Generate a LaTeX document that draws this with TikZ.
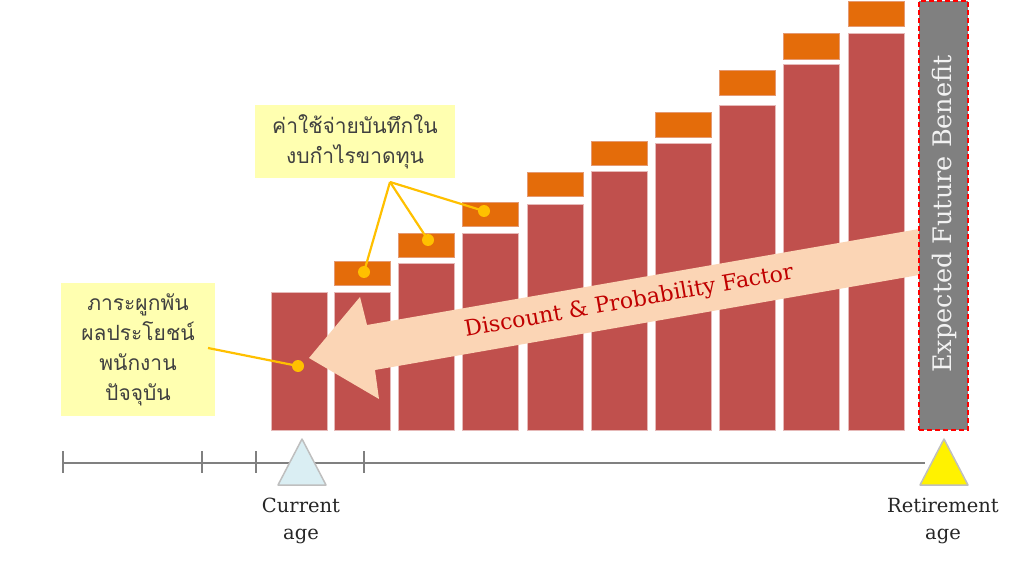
\documentclass[tikz,border=0pt]{standalone}
\usepackage{fontspec}
\setmainfont{DejaVu Serif}
\newfontfamily\thaifont[Script=Thai]{Loma}
\definecolor{barred}{HTML}{C0504D}
\definecolor{barorange}{HTML}{E46C0A}
\definecolor{barline}{HTML}{E6B9B8}
\definecolor{peach}{HTML}{FBD5B5}
\definecolor{darkred}{HTML}{C00000}
\definecolor{calloutfill}{HTML}{FFFFB0}
\definecolor{connector}{HTML}{FFC000}
\definecolor{axisgray}{HTML}{808080}
\definecolor{textgray}{HTML}{404040}
\definecolor{lightblue}{HTML}{DAEEF3}
\definecolor{triborder}{HTML}{BFBFBF}
\tikzset{
  barbox/.style={fill=barred, draw=barline, line width=0.8pt},
  topbox/.style={fill=barorange, draw=barline!60!barorange, line width=0.6pt},
  callout/.style={fill=calloutfill, inner sep=0pt, text=textgray, align=center,
    font=\thaifont\fontsize{21}{30}\selectfont},
  conn/.style={draw=connector, line width=2.2pt},
  dot/.style={circle, fill=connector, inner sep=0pt, minimum size=12pt},
  agelabel/.style={align=center, text=black!85, font=\fontsize{19.5}{27}\selectfont},
  tri/.style={draw=triborder, line width=1.5pt, line join=round},
  axis/.style={draw=axisgray, line width=1.8pt},
}
\begin{document}
\begin{tikzpicture}[x=1pt,y=-1pt]
\useasboundingbox (0,0) rectangle (1024,561);
% bars
\foreach \x/\t in {271/292,334/292,398/263,462/233,527/204,591/171,655/143,719/105,783/64,848/33}{
  \path[barbox] (\x,\t) rectangle (\x+56,430);
}
\foreach \x/\a/\b in {334/261/285,398/233/257,462/202/226,527/172/196,591/141/165,655/112/137,719/70/95,783/33/59,848/1/26}{
  \path[topbox] (\x,\a) rectangle (\x+56,\b);
}
% big arrow
\fill[peach] (919,229) -- (367,325) -- (360,297) -- (309,358) -- (379,399) -- (375,370) -- (919,275) -- cycle;
\node[rotate=10, text=darkred, inner sep=0pt, font=\fontsize{22}{24}\selectfont] (disc) at (629,302) {Discount \& Probability Factor};
% gray bar
\node[fill=axisgray, draw=red, dashed, dash pattern=on 5pt off 3pt, line width=2pt,
  minimum width=49pt, minimum height=429pt, inner sep=0pt] (efb) at (943.5,215.5) {};
\node[rotate=90, inner sep=0pt, text=white!95!black, font=\fontsize{25.5}{27}\selectfont] (efbtext) at (944,214) {Expected Future Benefit};
% timeline
\coordinate (tl0) at (63,463);
\coordinate (tl1) at (925,463);
\draw[axis] (tl0) -- (tl1);
\foreach \x in {63,202,256,364}{
  \draw[axis] (\x,451) -- (\x,473);
}
\draw[tri, fill=lightblue] (302,439) -- (278,485) -- (326,485) -- cycle;
\draw[tri, fill=yellow] (944,439) -- (920,485) -- (968,485) -- cycle;
\node[agelabel] (cur) at (301,521) {Current\\age};
\node[agelabel] (ret) at (943,521) {Retirement\\age};
% callouts
\node[callout, minimum width=200pt, minimum height=73pt] (c1) at (355,141.5)
  {ค่าใช้จ่ายบันทึกใน\\งบกำไรขาดทุน};
\node[callout, minimum width=154pt, minimum height=133pt] (c2) at (138,349.5)
  {ภาระผูกพัน\\ผลประโยชน์\\พนักงาน\\ปัจจุบัน};
\node[dot] (d1) at (298,366) {};
\node[dot] (d2) at (364,272) {};
\node[dot] (d3) at (428,240) {};
\node[dot] (d4) at (484,211) {};
\coordinate (j1) at (390,182);
\coordinate (j2) at (208,348);
\draw[conn] (j1) -- (d2.center);
\draw[conn] (j1) -- (d3.center);
\draw[conn] (j1) -- (d4.center);
\draw[conn] (j2) -- (d1.center);
\end{tikzpicture}
\end{document}
